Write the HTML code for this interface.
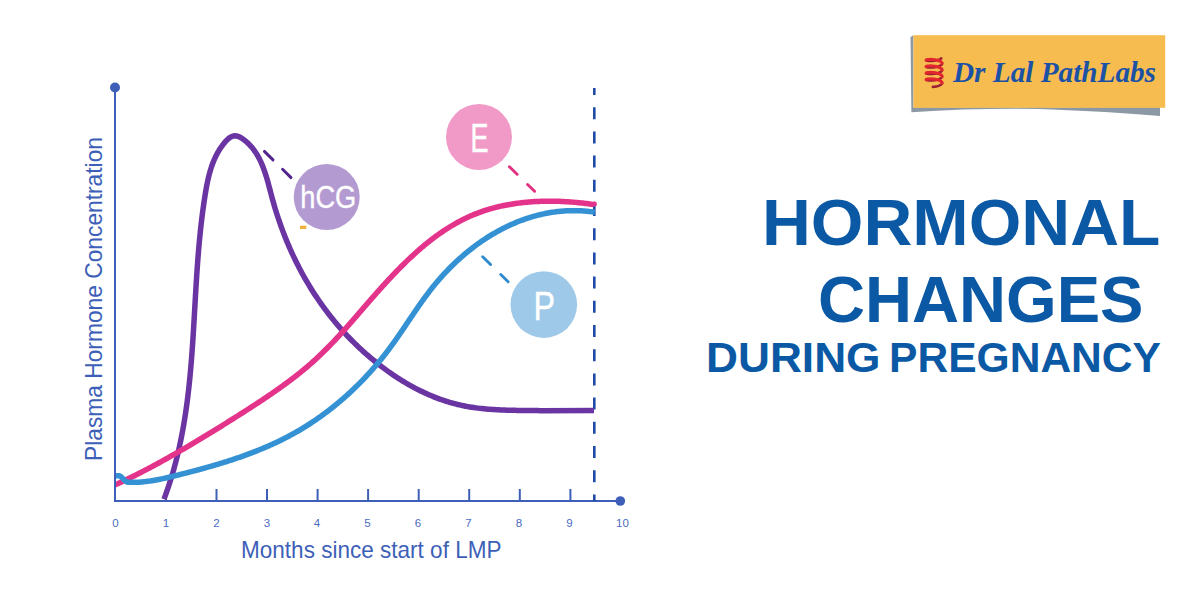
<!DOCTYPE html>
<html><head><meta charset="utf-8">
<style>
html,body{margin:0;padding:0;background:#fff;width:1200px;height:600px;overflow:hidden}
svg{display:block}
text{font-family:"Liberation Sans",sans-serif}
</style></head>
<body>
<svg width="1200" height="600" viewBox="0 0 1200 600">
<rect width="1200" height="600" fill="#fff"/>
<!-- axes -->
<g stroke="#3d5fb8" stroke-width="2" fill="none">
<line x1="115" y1="88" x2="115" y2="501"/>
<line x1="114" y1="501" x2="620" y2="501"/>
<line x1="165.9" y1="489" x2="165.9" y2="501"/>
<line x1="216.5" y1="489" x2="216.5" y2="501"/>
<line x1="267.0" y1="489" x2="267.0" y2="501"/>
<line x1="317.6" y1="489" x2="317.6" y2="501"/>
<line x1="368.1" y1="489" x2="368.1" y2="501"/>
<line x1="418.7" y1="489" x2="418.7" y2="501"/>
<line x1="469.2" y1="489" x2="469.2" y2="501"/>
<line x1="519.8" y1="489" x2="519.8" y2="501"/>
<line x1="570.4" y1="489" x2="570.4" y2="501"/>
</g>
<circle cx="115" cy="87.5" r="5" fill="#3d5fb8"/>
<circle cx="620.3" cy="501" r="4.8" fill="#3d5fb8"/>
<line x1="594.3" y1="88" x2="594.3" y2="501" stroke="#1f4aa6" stroke-width="2.6" stroke-dasharray="12 12.2" stroke-dashoffset="5"/>
<!-- tick labels -->
<g fill="#4a6cc0" font-size="11.5" text-anchor="middle">
<text x="115.5" y="527">0</text><text x="166" y="527">1</text><text x="216.5" y="527">2</text><text x="267" y="527">3</text><text x="317" y="527">4</text><text x="367.5" y="527">5</text><text x="418" y="527">6</text><text x="468.5" y="527">7</text><text x="519" y="527">8</text><text x="569.5" y="527">9</text><text x="622.5" y="527">10</text>
</g>
<text x="241" y="557.5" font-size="24" fill="#3d5fb8" textLength="260.5" lengthAdjust="spacingAndGlyphs">Months since start of LMP</text>
<text transform="translate(102.3,461) rotate(-90)" x="0" y="0" font-size="24" fill="#3d5fb8" textLength="324" lengthAdjust="spacingAndGlyphs">Plasma Hormone Concentration</text>
<!-- dashed connectors -->
<line x1="264.4" y1="151.4" x2="291" y2="177.6" stroke="#52238c" stroke-width="2.9" stroke-linecap="round" stroke-dasharray="12.1 13.4"/>
<line x1="509.4" y1="166.7" x2="534.6" y2="191.3" stroke="#e0307f" stroke-width="2.9" stroke-linecap="round" stroke-dasharray="10.8 14.6"/>
<line x1="482.7" y1="256.7" x2="508.1" y2="281.8" stroke="#2f8ad0" stroke-width="2.9" stroke-linecap="round" stroke-dasharray="11 14.4"/>
<!-- bubbles -->
<circle cx="326.7" cy="197" r="33" fill="#b39bd1"/>
<text x="300.3" y="207.7" font-size="31" fill="#fff" stroke="#fff" stroke-width="0.3" textLength="56" lengthAdjust="spacingAndGlyphs">hCG</text>
<rect x="300" y="225.7" width="6.3" height="3.3" fill="#f3ae3c"/>
<circle cx="479" cy="137" r="33" fill="#f19ac7"/>
<text x="470.6" y="152.3" font-size="40.5" fill="#fff" stroke="#fff" stroke-width="0.5" textLength="18" lengthAdjust="spacingAndGlyphs">E</text>
<circle cx="543.8" cy="304.6" r="33.3" fill="#9fc9e9"/>
<text x="533.4" y="319.8" font-size="41" fill="#fff" stroke="#fff" stroke-width="0.5" textLength="21.5" lengthAdjust="spacingAndGlyphs">P</text>
<!-- curves -->
<defs><clipPath id="cl"><rect x="116.1" y="0" width="1100" height="600"/></clipPath></defs>
<g fill="none" stroke-width="5.5" stroke-linecap="butt" stroke-linejoin="round" clip-path="url(#cl)">
<path d="M164.01,499.10 L164.75,497.12 L165.48,495.13 L166.19,493.14 L166.90,491.14 L167.59,489.15 L168.26,487.16 L168.93,485.16 L169.58,483.16 L170.22,481.16 L170.85,479.16 L171.46,477.16 L172.07,475.16 L172.66,473.16 L173.24,471.15 L173.81,469.14 L174.36,467.13 L174.91,465.13 L175.44,463.11 L175.97,461.10 L176.48,459.09 L176.99,457.08 L177.48,455.06 L177.96,453.04 L178.43,451.03 L178.89,449.01 L179.35,446.99 L179.79,444.96 L180.22,442.94 L180.65,440.92 L181.06,438.89 L181.46,436.87 L181.86,434.84 L182.25,432.81 L182.63,430.78 L183.00,428.75 L183.36,426.72 L183.71,424.69 L184.05,422.66 L184.39,420.62 L184.72,418.59 L185.04,416.55 L185.36,414.51 L185.66,412.47 L185.96,410.44 L186.25,408.40 L186.54,406.35 L186.82,404.31 L187.09,402.27 L187.35,400.23 L187.61,398.18 L187.86,396.14 L188.11,394.09 L188.35,392.04 L188.58,390.00 L188.81,387.95 L189.03,385.90 L189.25,383.85 L189.46,381.80 L189.67,379.75 L189.87,377.69 L190.07,375.64 L190.26,373.59 L190.45,371.53 L190.63,369.48 L190.81,367.42 L190.99,365.36 L191.16,363.31 L191.33,361.25 L191.49,359.19 L191.65,357.13 L191.81,355.07 L191.96,353.01 L192.11,350.95 L192.26,348.89 L192.40,346.83 L192.54,344.77 L192.68,342.70 L192.82,340.64 L192.95,338.58 L193.09,336.51 L193.22,334.45 L193.34,332.38 L193.47,330.31 L193.60,328.25 L193.72,326.18 L193.84,324.11 L193.97,322.05 L194.09,319.98 L194.21,317.91 L194.33,315.84 L194.44,313.77 L194.56,311.70 L194.68,309.63 L194.80,307.56 L194.92,305.49 L195.04,303.42 L195.15,301.35 L195.27,299.28 L195.39,297.21 L195.51,295.14 L195.64,293.07 L195.76,291.00 L195.88,288.92 L196.01,286.85 L196.13,284.78 L196.26,282.71 L196.39,280.63 L196.52,278.56 L196.66,276.49 L196.79,274.41 L196.93,272.34 L197.07,270.27 L197.22,268.19 L197.36,266.12 L197.51,264.05 L197.66,261.97 L197.82,259.90 L197.98,257.83 L198.14,255.75 L198.31,253.68 L198.48,251.61 L198.65,249.53 L198.83,247.46 L199.01,245.38 L199.20,243.31 L199.39,241.24 L199.58,239.17 L199.78,237.09 L199.99,235.02 L200.20,232.95 L200.41,230.87 L200.63,228.80 L200.86,226.73 L201.09,224.66 L201.33,222.59 L201.57,220.51 L201.82,218.44 L202.08,216.37 L202.34,214.30 L202.61,212.23 L202.89,210.16 L203.17,208.09 L203.46,206.02 L203.76,203.95 L204.06,201.88 L204.37,199.81 L204.69,197.74 L205.02,195.68 L205.35,193.61 L205.69,191.54 L206.05,189.48 L206.42,187.42 L206.80,185.36 L207.21,183.31 L207.63,181.26 L208.08,179.22 L208.55,177.20 L209.05,175.18 L209.58,173.17 L210.14,171.17 L210.73,169.19 L211.36,167.21 L212.04,165.26 L212.75,163.32 L213.50,161.40 L214.31,159.50 L215.16,157.61 L216.06,155.75 L217.01,153.91 L218.02,152.09 L219.08,150.29 L220.21,148.52 L221.40,146.78 L222.65,145.06 L223.97,143.37 L225.35,141.72 L226.81,140.15 L228.32,138.73 L229.89,137.52 L231.52,136.58 L233.20,135.97 L234.92,135.76 L236.69,135.95 L238.47,136.51 L240.25,137.35 L242.00,138.41 L243.71,139.61 L245.35,140.90 L246.91,142.24 L248.40,143.63 L249.82,145.07 L251.17,146.55 L252.46,148.08 L253.68,149.65 L254.85,151.26 L255.96,152.91 L257.01,154.59 L258.02,156.31 L258.97,158.07 L259.88,159.85 L260.74,161.66 L261.57,163.51 L262.35,165.38 L263.10,167.27 L263.82,169.19 L264.51,171.12 L265.18,173.08 L265.81,175.06 L266.43,177.05 L267.03,179.05 L267.61,181.07 L268.18,183.10 L268.73,185.14 L269.28,187.18 L269.83,189.23 L270.37,191.29 L270.91,193.34 L271.45,195.40 L272.00,197.45 L272.56,199.51 L273.13,201.55 L273.71,203.59 L274.30,205.63 L274.90,207.66 L275.52,209.69 L276.14,211.71 L276.78,213.72 L277.42,215.73 L278.08,217.74 L278.75,219.74 L279.43,221.73 L280.12,223.72 L280.83,225.70 L281.54,227.68 L282.27,229.65 L283.00,231.61 L283.75,233.57 L284.51,235.52 L285.28,237.46 L286.06,239.40 L286.86,241.34 L287.66,243.26 L288.48,245.18 L289.30,247.10 L290.14,249.01 L290.99,250.91 L291.85,252.80 L292.72,254.69 L293.61,256.57 L294.50,258.44 L295.41,260.31 L296.32,262.17 L297.25,264.03 L298.19,265.87 L299.14,267.71 L300.10,269.54 L301.07,271.37 L302.06,273.19 L303.05,275.00 L304.06,276.80 L305.08,278.59 L306.11,280.38 L307.15,282.16 L308.20,283.94 L309.26,285.70 L310.33,287.46 L311.42,289.21 L312.51,290.95 L313.62,292.68 L314.74,294.41 L315.87,296.13 L317.01,297.83 L318.16,299.54 L319.33,301.23 L320.50,302.91 L321.69,304.59 L322.89,306.26 L324.10,307.92 L325.32,309.57 L326.55,311.21 L327.79,312.84 L329.04,314.47 L330.31,316.09 L331.58,317.69 L332.87,319.29 L334.17,320.88 L335.48,322.46 L336.80,324.03 L338.13,325.60 L339.48,327.15 L340.83,328.69 L342.20,330.23 L343.58,331.75 L344.96,333.27 L346.36,334.77 L347.78,336.27 L349.20,337.76 L350.63,339.24 L352.08,340.70 L353.53,342.16 L355.00,343.61 L356.48,345.05 L357.97,346.48 L359.47,347.89 L360.98,349.30 L362.50,350.70 L364.04,352.09 L365.59,353.47 L367.14,354.83 L368.71,356.19 L370.29,357.54 L371.88,358.87 L373.48,360.20 L375.10,361.51 L376.72,362.82 L378.36,364.11 L380.01,365.39 L381.66,366.66 L383.33,367.92 L385.01,369.16 L386.70,370.39 L388.40,371.61 L390.11,372.82 L391.83,374.01 L393.56,375.19 L395.30,376.35 L397.05,377.50 L398.81,378.64 L400.58,379.75 L402.36,380.86 L404.15,381.94 L405.95,383.01 L407.76,384.07 L409.57,385.10 L411.40,386.12 L413.23,387.12 L415.07,388.10 L416.92,389.07 L418.78,390.01 L420.65,390.94 L422.53,391.85 L424.41,392.73 L426.30,393.60 L428.20,394.45 L430.11,395.27 L432.02,396.08 L433.94,396.86 L435.87,397.62 L437.81,398.36 L439.75,399.08 L441.70,399.77 L443.66,400.44 L445.63,401.09 L447.60,401.71 L449.58,402.31 L451.56,402.89 L453.55,403.44 L455.55,403.96 L457.55,404.46 L459.56,404.94 L461.57,405.38 L463.59,405.81 L465.62,406.20 L467.65,406.58 L469.68,406.93 L471.72,407.26 L473.77,407.56 L475.82,407.85 L477.87,408.11 L479.92,408.36 L481.98,408.59 L484.04,408.79 L486.11,408.99 L488.18,409.16 L490.25,409.33 L492.32,409.47 L494.39,409.61 L496.47,409.73 L498.55,409.83 L500.62,409.93 L502.70,410.02 L504.78,410.09 L506.86,410.16 L508.94,410.22 L511.02,410.27 L513.10,410.31 L515.18,410.35 L517.26,410.39 L519.33,410.42 L521.41,410.44 L523.48,410.47 L525.55,410.49 L527.62,410.51 L529.69,410.53 L531.75,410.55 L533.81,410.57 L535.87,410.59 L537.93,410.62 L539.98,410.65 L594,410.6" stroke="#6a34a2"/>
<path d="M113.01,485.79 L114.34,485.20 L115.66,484.60 L116.98,484.01 L118.30,483.41 L119.62,482.80 L120.93,482.19 L122.25,481.58 L123.56,480.96 L124.87,480.35 L126.17,479.72 L127.48,479.10 L128.78,478.47 L130.08,477.84 L131.38,477.20 L132.67,476.56 L133.97,475.92 L135.26,475.28 L136.55,474.63 L137.84,473.98 L139.13,473.32 L140.42,472.67 L141.70,472.01 L142.99,471.35 L144.27,470.68 L145.55,470.02 L146.83,469.35 L148.10,468.67 L149.38,468.00 L150.66,467.32 L151.93,466.64 L153.20,465.96 L154.47,465.28 L155.74,464.59 L157.01,463.90 L158.28,463.21 L159.54,462.52 L160.81,461.82 L162.07,461.13 L163.33,460.43 L164.60,459.73 L165.86,459.02 L167.12,458.32 L168.38,457.61 L169.64,456.91 L170.89,456.20 L172.15,455.48 L173.41,454.77 L174.66,454.06 L175.92,453.34 L177.17,452.62 L178.42,451.90 L179.67,451.18 L180.93,450.46 L182.18,449.73 L183.43,449.01 L184.67,448.28 L185.92,447.55 L187.17,446.82 L188.42,446.09 L189.66,445.35 L190.91,444.62 L192.15,443.88 L193.40,443.14 L194.64,442.40 L195.88,441.66 L197.13,440.92 L198.37,440.17 L199.61,439.43 L200.85,438.68 L202.09,437.93 L203.33,437.18 L204.57,436.43 L205.81,435.68 L207.04,434.93 L208.28,434.17 L209.52,433.42 L210.75,432.66 L211.99,431.90 L213.23,431.14 L214.46,430.38 L215.70,429.62 L216.93,428.86 L218.16,428.10 L219.40,427.33 L220.63,426.57 L221.86,425.80 L223.10,425.03 L224.33,424.26 L225.56,423.49 L226.79,422.72 L228.02,421.95 L229.25,421.18 L230.48,420.40 L231.71,419.63 L232.94,418.85 L234.17,418.08 L235.40,417.30 L236.63,416.52 L237.86,415.74 L239.09,414.96 L240.32,414.18 L241.55,413.40 L242.77,412.62 L244.00,411.84 L245.23,411.05 L246.46,410.27 L247.68,409.48 L248.91,408.69 L250.13,407.91 L251.36,407.12 L252.58,406.32 L253.80,405.53 L255.02,404.74 L256.24,403.94 L257.46,403.14 L258.68,402.34 L259.90,401.54 L261.11,400.74 L262.33,399.94 L263.54,399.13 L264.75,398.32 L265.96,397.51 L267.16,396.70 L268.37,395.88 L269.57,395.06 L270.77,394.24 L271.97,393.42 L273.17,392.60 L274.36,391.77 L275.55,390.94 L276.74,390.11 L277.93,389.27 L279.11,388.43 L280.30,387.59 L281.48,386.75 L282.65,385.90 L283.83,385.05 L285.00,384.19 L286.16,383.34 L287.33,382.48 L288.49,381.61 L289.65,380.75 L290.80,379.88 L291.95,379.00 L293.10,378.12 L294.25,377.24 L295.39,376.36 L296.52,375.47 L297.66,374.58 L298.79,373.68 L299.91,372.78 L301.03,371.87 L302.15,370.96 L303.26,370.05 L304.37,369.13 L305.48,368.21 L306.58,367.29 L307.67,366.35 L308.76,365.42 L309.85,364.48 L310.93,363.53 L312.01,362.58 L313.08,361.63 L314.15,360.67 L315.21,359.71 L316.27,358.74 L317.32,357.76 L318.37,356.79 L319.41,355.80 L320.45,354.81 L321.48,353.82 L322.51,352.82 L323.54,351.82 L324.56,350.82 L325.57,349.81 L326.59,348.79 L327.60,347.77 L328.60,346.75 L329.60,345.73 L330.60,344.70 L331.60,343.66 L332.59,342.63 L333.58,341.59 L334.57,340.55 L335.55,339.50 L336.53,338.45 L337.51,337.40 L338.48,336.34 L339.46,335.28 L340.43,334.22 L341.40,333.16 L342.36,332.09 L343.33,331.02 L344.29,329.95 L345.25,328.88 L346.21,327.80 L347.17,326.72 L348.12,325.64 L349.08,324.56 L350.03,323.48 L350.99,322.39 L351.94,321.31 L352.89,320.22 L353.84,319.13 L354.79,318.04 L355.75,316.94 L356.70,315.85 L357.65,314.75 L358.59,313.66 L359.54,312.56 L360.49,311.46 L361.45,310.37 L362.40,309.27 L363.35,308.17 L364.30,307.07 L365.25,305.97 L366.21,304.87 L367.16,303.77 L368.12,302.66 L369.07,301.56 L370.03,300.46 L370.99,299.36 L371.95,298.26 L372.91,297.16 L373.88,296.06 L374.85,294.97 L375.81,293.87 L376.78,292.77 L377.76,291.67 L378.73,290.58 L379.71,289.49 L380.68,288.39 L381.66,287.30 L382.65,286.21 L383.63,285.13 L384.62,284.04 L385.61,282.96 L386.60,281.88 L387.59,280.80 L388.59,279.72 L389.59,278.65 L390.59,277.58 L391.59,276.51 L392.60,275.44 L393.61,274.38 L394.62,273.32 L395.63,272.26 L396.65,271.21 L397.67,270.16 L398.69,269.11 L399.72,268.07 L400.75,267.03 L401.78,266.00 L402.82,264.97 L403.86,263.94 L404.90,262.92 L405.94,261.90 L406.99,260.89 L408.04,259.88 L409.10,258.87 L410.15,257.88 L411.22,256.88 L412.28,255.89 L413.35,254.91 L414.42,253.93 L415.50,252.96 L416.58,251.99 L417.66,251.03 L418.75,250.08 L419.84,249.13 L420.93,248.19 L422.03,247.25 L423.14,246.32 L424.24,245.40 L425.35,244.48 L426.47,243.57 L427.59,242.67 L428.71,241.77 L429.84,240.88 L430.97,240.00 L432.11,239.12 L433.25,238.26 L434.40,237.40 L435.55,236.55 L436.70,235.70 L437.86,234.87 L439.02,234.04 L440.19,233.22 L441.36,232.41 L442.54,231.61 L443.73,230.81 L444.91,230.03 L446.11,229.25 L447.30,228.48 L448.51,227.72 L449.71,226.97 L450.93,226.23 L452.14,225.50 L453.37,224.78 L454.60,224.07 L455.83,223.37 L457.07,222.68 L458.31,222.00 L459.56,221.33 L460.82,220.66 L462.08,220.01 L463.35,219.37 L464.62,218.75 L465.90,218.13 L467.18,217.52 L468.47,216.92 L469.76,216.34 L471.06,215.76 L472.37,215.20 L473.68,214.65 L475.00,214.11 L476.33,213.58 L477.66,213.07 L479.00,212.56 L480.34,212.07 L481.69,211.59 L483.05,211.12 L484.41,210.67 L485.77,210.22 L487.15,209.79 L488.53,209.37 L489.91,208.96 L491.30,208.57 L492.69,208.18 L494.09,207.81 L495.49,207.45 L496.90,207.09 L498.31,206.75 L499.73,206.43 L501.15,206.11 L502.57,205.80 L504.00,205.50 L505.43,205.22 L506.87,204.94 L508.31,204.68 L509.75,204.42 L511.19,204.18 L512.64,203.94 L514.09,203.72 L515.55,203.51 L517.00,203.30 L518.46,203.11 L519.92,202.93 L521.38,202.75 L522.85,202.59 L524.31,202.43 L525.78,202.29 L527.25,202.15 L528.72,202.02 L530.19,201.91 L531.67,201.80 L533.14,201.70 L534.61,201.61 L536.09,201.53 L537.56,201.46 L539.04,201.39 L540.52,201.34 L541.99,201.29 L543.47,201.25 L544.94,201.22 L546.42,201.20 L547.89,201.19 L549.37,201.18 L550.84,201.18 L552.31,201.19 L553.78,201.21 L555.25,201.24 L556.72,201.27 L558.18,201.31 L559.65,201.36 L561.11,201.42 L562.57,201.48 L564.03,201.55 L565.49,201.63 L566.94,201.72 L568.39,201.81 L569.84,201.91 L571.28,202.01 L572.73,202.12 L574.16,202.24 L575.60,202.37 L577.03,202.50 L578.46,202.64 L579.88,202.78 L581.31,202.93 L582.72,203.09 L584.13,203.25 L585.54,203.42 L586.95,203.60 L588.34,203.78 L589.74,203.97 L591.13,204.16 L592.51,204.35 L593.89,204.56" stroke="#e3338a"/>
<circle cx="594.4" cy="204" r="2.5" fill="#e3338a"/>
<path d="M114.00,475.70 L114.36,475.70 L114.72,475.70 L115.09,475.70 L115.45,475.70 L115.81,475.70 L116.17,475.70 L116.53,475.70 L116.89,475.70 L117.26,475.70 L117.62,475.70 L117.98,475.70 L118.34,475.70 L118.70,475.71 L119.07,475.77 L119.43,475.87 L119.79,476.02 L120.15,476.22 L120.51,476.44 L120.87,476.71 L121.24,477.00 L121.60,477.31 L121.96,477.64 L122.32,477.99 L122.68,478.35 L123.05,478.72 L123.41,479.09 L123.77,479.46 L124.13,479.83 L124.49,480.18 L124.85,480.52 L125.22,480.85 L125.58,481.15 L125.94,481.42 L126.30,481.67 L126.66,481.88 L127.03,482.05 L127.39,482.17 L127.75,482.25 L128.11,482.28 L129.53,482.33 L130.95,482.36 L132.37,482.36 L133.78,482.35 L135.19,482.32 L136.59,482.27 L137.99,482.21 L139.39,482.13 L140.79,482.03 L142.18,481.91 L143.57,481.78 L144.96,481.63 L146.35,481.47 L147.73,481.30 L149.11,481.11 L150.49,480.91 L151.87,480.69 L153.25,480.47 L154.62,480.23 L156.00,479.99 L157.37,479.73 L158.74,479.47 L160.11,479.19 L161.48,478.91 L162.85,478.62 L164.22,478.32 L165.58,478.01 L166.95,477.70 L168.32,477.39 L169.69,477.06 L171.05,476.74 L172.42,476.41 L173.79,476.07 L175.15,475.74 L176.52,475.40 L177.89,475.06 L179.26,474.72 L180.63,474.37 L182.00,474.03 L183.37,473.68 L184.74,473.33 L186.11,472.98 L187.49,472.63 L188.86,472.28 L190.23,471.92 L191.61,471.56 L192.98,471.20 L194.35,470.84 L195.73,470.47 L197.10,470.11 L198.48,469.74 L199.85,469.37 L201.22,468.99 L202.60,468.62 L203.97,468.24 L205.34,467.86 L206.71,467.47 L208.09,467.08 L209.46,466.69 L210.83,466.30 L212.20,465.91 L213.57,465.51 L214.94,465.10 L216.31,464.70 L217.68,464.29 L219.04,463.88 L220.41,463.47 L221.77,463.05 L223.14,462.63 L224.50,462.20 L225.86,461.78 L227.23,461.35 L228.59,460.91 L229.94,460.47 L231.30,460.03 L232.66,459.58 L234.01,459.13 L235.37,458.68 L236.72,458.22 L238.07,457.76 L239.42,457.30 L240.77,456.83 L242.11,456.35 L243.45,455.87 L244.80,455.39 L246.14,454.90 L247.48,454.41 L248.81,453.92 L250.15,453.42 L251.48,452.91 L252.81,452.40 L254.14,451.89 L255.46,451.37 L256.79,450.85 L258.11,450.32 L259.43,449.79 L260.74,449.25 L262.06,448.71 L263.37,448.16 L264.68,447.61 L265.99,447.05 L267.29,446.48 L268.59,445.91 L269.89,445.34 L271.18,444.76 L272.48,444.18 L273.77,443.58 L275.05,442.99 L276.34,442.39 L277.62,441.78 L278.90,441.17 L280.17,440.55 L281.44,439.92 L282.71,439.29 L283.97,438.65 L285.24,438.01 L286.49,437.36 L287.75,436.71 L289.00,436.04 L290.25,435.38 L291.49,434.70 L292.73,434.02 L293.96,433.34 L295.20,432.64 L296.43,431.94 L297.65,431.24 L298.87,430.53 L300.09,429.81 L301.30,429.09 L302.51,428.36 L303.72,427.62 L304.92,426.88 L306.12,426.13 L307.32,425.38 L308.51,424.62 L309.70,423.86 L310.88,423.09 L312.06,422.31 L313.24,421.53 L314.41,420.74 L315.58,419.95 L316.74,419.15 L317.90,418.34 L319.06,417.53 L320.21,416.71 L321.36,415.89 L322.50,415.06 L323.64,414.23 L324.78,413.39 L325.91,412.55 L327.04,411.70 L328.16,410.84 L329.28,409.99 L330.40,409.12 L331.51,408.25 L332.62,407.37 L333.72,406.49 L334.82,405.61 L335.92,404.71 L337.01,403.82 L338.09,402.92 L339.18,402.01 L340.25,401.10 L341.33,400.18 L342.40,399.26 L343.47,398.33 L344.53,397.40 L345.58,396.46 L346.64,395.52 L347.69,394.58 L348.73,393.63 L349.77,392.67 L350.81,391.71 L351.84,390.74 L352.86,389.77 L353.89,388.80 L354.91,387.82 L355.92,386.84 L356.93,385.85 L357.93,384.86 L358.93,383.86 L359.93,382.86 L360.92,381.85 L361.91,380.84 L362.89,379.82 L363.87,378.81 L364.84,377.78 L365.81,376.75 L366.78,375.72 L367.74,374.68 L368.69,373.64 L369.64,372.60 L370.59,371.55 L371.53,370.50 L372.47,369.44 L373.40,368.38 L374.33,367.31 L375.25,366.24 L376.17,365.17 L377.08,364.09 L377.99,363.01 L378.89,361.93 L379.79,360.84 L380.69,359.75 L381.58,358.65 L382.46,357.55 L383.34,356.45 L384.22,355.34 L385.09,354.23 L385.95,353.11 L386.81,351.99 L387.67,350.87 L388.52,349.75 L389.37,348.62 L390.21,347.48 L391.05,346.35 L391.88,345.21 L392.71,344.07 L393.53,342.92 L394.35,341.78 L395.17,340.63 L395.98,339.47 L396.79,338.32 L397.59,337.16 L398.40,336.00 L399.20,334.84 L400.00,333.68 L400.80,332.51 L401.59,331.35 L402.39,330.18 L403.18,329.01 L403.97,327.84 L404.76,326.67 L405.55,325.50 L406.33,324.33 L407.12,323.16 L407.91,321.99 L408.70,320.82 L409.49,319.64 L410.27,318.47 L411.06,317.30 L411.85,316.13 L412.64,314.96 L413.44,313.79 L414.23,312.62 L415.02,311.45 L415.82,310.29 L416.62,309.12 L417.42,307.96 L418.23,306.80 L419.03,305.64 L419.84,304.48 L420.66,303.32 L421.48,302.17 L422.30,301.02 L423.12,299.87 L423.95,298.72 L424.78,297.58 L425.62,296.43 L426.46,295.30 L427.31,294.16 L428.16,293.03 L429.02,291.90 L429.88,290.78 L430.75,289.66 L431.62,288.54 L432.50,287.43 L433.39,286.32 L434.28,285.22 L435.18,284.12 L436.09,283.03 L437.00,281.94 L437.93,280.85 L438.85,279.77 L439.79,278.70 L440.73,277.63 L441.68,276.56 L442.63,275.51 L443.60,274.45 L444.57,273.40 L445.54,272.36 L446.52,271.32 L447.51,270.29 L448.50,269.27 L449.51,268.25 L450.51,267.23 L451.53,266.22 L452.55,265.22 L453.57,264.23 L454.61,263.24 L455.64,262.26 L456.69,261.28 L457.74,260.31 L458.80,259.35 L459.86,258.39 L460.93,257.44 L462.00,256.50 L463.08,255.56 L464.17,254.63 L465.26,253.71 L466.36,252.80 L467.46,251.89 L468.57,250.99 L469.68,250.10 L470.80,249.22 L471.93,248.34 L473.06,247.47 L474.20,246.61 L475.34,245.76 L476.48,244.91 L477.64,244.07 L478.79,243.25 L479.96,242.43 L481.13,241.61 L482.30,240.81 L483.48,240.01 L484.66,239.23 L485.85,238.45 L487.04,237.68 L488.24,236.92 L489.44,236.17 L490.65,235.43 L491.86,234.69 L493.08,233.97 L494.30,233.26 L495.53,232.55 L496.76,231.86 L497.99,231.17 L499.23,230.49 L500.48,229.83 L501.73,229.17 L502.98,228.52 L504.24,227.88 L505.50,227.26 L506.77,226.64 L508.04,226.03 L509.31,225.44 L510.59,224.85 L511.87,224.28 L513.16,223.71 L514.45,223.16 L515.74,222.62 L517.04,222.08 L518.35,221.56 L519.65,221.05 L520.96,220.55 L522.28,220.06 L523.59,219.59 L524.91,219.12 L526.24,218.67 L527.57,218.22 L528.90,217.79 L530.24,217.37 L531.57,216.97 L532.92,216.57 L534.26,216.19 L535.61,215.82 L536.96,215.46 L538.32,215.11 L539.68,214.77 L541.04,214.45 L542.40,214.14 L543.77,213.84 L545.14,213.56 L546.52,213.29 L547.89,213.03 L549.27,212.78 L550.65,212.55 L552.04,212.33 L553.43,212.12 L554.82,211.93 L556.21,211.75 L557.61,211.58 L559.01,211.42 L560.41,211.28 L561.81,211.16 L563.22,211.05 L564.63,210.95 L566.04,210.86 L567.45,210.79 L568.86,210.73 L570.28,210.69 L571.70,210.66 L573.12,210.65 L574.55,210.65 L575.97,210.66 L577.40,210.69 L578.83,210.74 L580.26,210.80 L581.70,210.87 L583.13,210.96 L584.57,211.06 L586.01,211.18 L587.45,211.32 L588.89,211.47 L590.34,211.63 L591.78,211.81 L593.23,212.01 L594.68,212.22" stroke="#3492d4"/>
</g>
<!-- logo -->
<path d="M910.5,37 L913.4,35.2 L913.4,107.3 L1160,107.3 L1160,116 Q1110,111.5 1040,109 Q975,108 911.4,112.2 Z" fill="#8c98a3"/>
<rect x="913.4" y="35.2" width="251.8" height="72.6" fill="#f7bc50"/>
<g fill="none" stroke-linecap="round">
<path d="M941.30,58.36 L940.78,58.75 L940.14,59.11 L939.40,59.46 L938.57,59.77 L937.65,60.05 L936.68,60.30 L935.66,60.52 L934.61,60.69 L933.55,60.83 L932.50,60.92 L931.48,60.98 L930.51,61.01 L929.60,61.00 L928.77,60.95 L928.03,60.88 L927.40,60.79 L926.88,60.67 L926.49,60.54 L926.23,60.39 L926.11,60.24 L926.10,60.19 M942.10,63.38 L942.05,63.80 L941.86,64.23 L941.53,64.64 L941.08,65.04 L940.50,65.42 L939.82,65.78 L939.03,66.11 L938.15,66.41 L937.21,66.67 L936.21,66.91 L935.18,67.10 L934.12,67.26 L933.07,67.37 L932.03,67.46 L931.03,67.50 L930.08,67.51 L929.21,67.48 L928.42,67.43 L927.72,67.34 L927.14,67.24 L926.68,67.11 L926.35,66.97 L926.16,66.82 L926.10,66.70 M942.10,69.93 L942.03,70.36 L941.83,70.78 L941.48,71.19 L941.01,71.59 L940.42,71.96 L939.72,72.32 L938.92,72.65 L938.04,72.94 L937.09,73.20 L936.08,73.43 L935.05,73.62 L933.99,73.77 L932.94,73.89 L931.90,73.96 L930.91,74.00 L929.97,74.00 L929.10,73.98 L928.32,73.92 L927.64,73.83 L927.08,73.72 L926.63,73.59 L926.32,73.45 L926.14,73.30 L926.10,73.20 M942.10,76.41 L942.04,76.84 L941.84,77.26 L941.50,77.67 L941.04,78.07 L940.45,78.45 L939.75,78.80 L938.96,79.13 L938.08,79.43 L937.13,79.69 L936.13,79.92 L935.09,80.11 L934.03,80.27 L932.98,80.38 L931.95,80.46 L930.95,80.50 L930.01,80.51 L929.14,80.48 L928.35,80.42 L927.67,80.33 L927.10,80.23 L926.65,80.10 L926.33,79.96 L926.15,79.81 L926.10,79.71 M942.10,82.89 L942.04,83.32 L941.85,83.74 L941.52,84.16 L941.06,84.55 L940.48,84.93 L939.78,85.29 L938.99,85.62 L938.11,85.92 L937.17,86.18 L936.17,86.41 L935.13,86.61 L934.08,86.76 L933.02,86.88 L932.85,86.89" stroke="#9b2035" stroke-width="2.6"/>
<path d="M926.10,60.19 L926.17,60.04 L926.37,59.89 L926.71,59.75 L927.17,59.63 L927.76,59.52 L928.46,59.44 L929.26,59.39 L930.14,59.36 L931.09,59.37 L932.09,59.42 L933.13,59.50 L934.19,59.62 L935.24,59.78 L936.27,59.98 L937.27,60.21 L938.21,60.48 L939.08,60.78 L939.86,61.11 L940.54,61.47 L941.11,61.85 L941.56,62.25 L941.87,62.67 L942.06,63.09 L942.10,63.38 M926.10,66.70 L926.16,66.54 L926.36,66.39 L926.69,66.25 L927.15,66.13 L927.74,66.02 L928.43,65.94 L929.22,65.89 L930.10,65.86 L931.05,65.87 L932.05,65.91 L933.09,66.00 L934.14,66.12 L935.20,66.27 L936.23,66.47 L937.23,66.70 L938.17,66.97 L939.04,67.27 L939.83,67.60 L940.52,67.96 L941.09,68.34 L941.54,68.74 L941.86,69.15 L942.05,69.57 L942.10,69.93 M926.10,73.20 L926.15,73.05 L926.35,72.90 L926.67,72.76 L927.13,72.63 L927.71,72.53 L928.40,72.45 L929.19,72.39 L930.07,72.36 L931.01,72.37 L932.01,72.41 L933.05,72.49 L934.10,72.61 L935.15,72.77 L936.19,72.96 L937.19,73.19 L938.14,73.46 L939.01,73.76 L939.80,74.09 L940.49,74.44 L941.07,74.82 L941.53,75.22 L941.85,75.63 L942.05,76.06 L942.10,76.41 M926.10,79.71 L926.15,79.55 L926.34,79.41 L926.66,79.27 L927.11,79.14 L927.68,79.03 L928.37,78.95 L929.16,78.89 L930.03,78.86 L930.97,78.87 L931.97,78.91 L933.00,78.99 L934.06,79.10 L935.11,79.26 L936.15,79.45 L937.15,79.68 L938.10,79.95 L938.98,80.24 L939.77,80.57 L940.46,80.93 L941.05,81.31 L941.51,81.70 L941.84,82.12 L942.04,82.54 L942.10,82.89" stroke="#e3262e" stroke-width="3"/>
</g>
<text x="953" y="81.5" style="font-family:'Liberation Serif',serif;font-weight:bold;font-style:italic" font-size="30" fill="#1b52a6" textLength="203" lengthAdjust="spacingAndGlyphs">Dr Lal PathLabs</text>
<!-- heading -->
<g fill="#0b59a5" font-weight="bold">
<text x="761.9" y="245.4" font-size="64.6" textLength="398.5" lengthAdjust="spacingAndGlyphs">HORMONAL</text>
<text x="818" y="322.2" font-size="64.8" textLength="325.5" lengthAdjust="spacingAndGlyphs">CHANGES</text>
<text x="706" y="372.3" font-size="42" textLength="174.5" lengthAdjust="spacingAndGlyphs">DURING</text><text x="889" y="372.3" font-size="42" textLength="272" lengthAdjust="spacingAndGlyphs">PREGNANCY</text>
</g>
</svg>
</body></html>
